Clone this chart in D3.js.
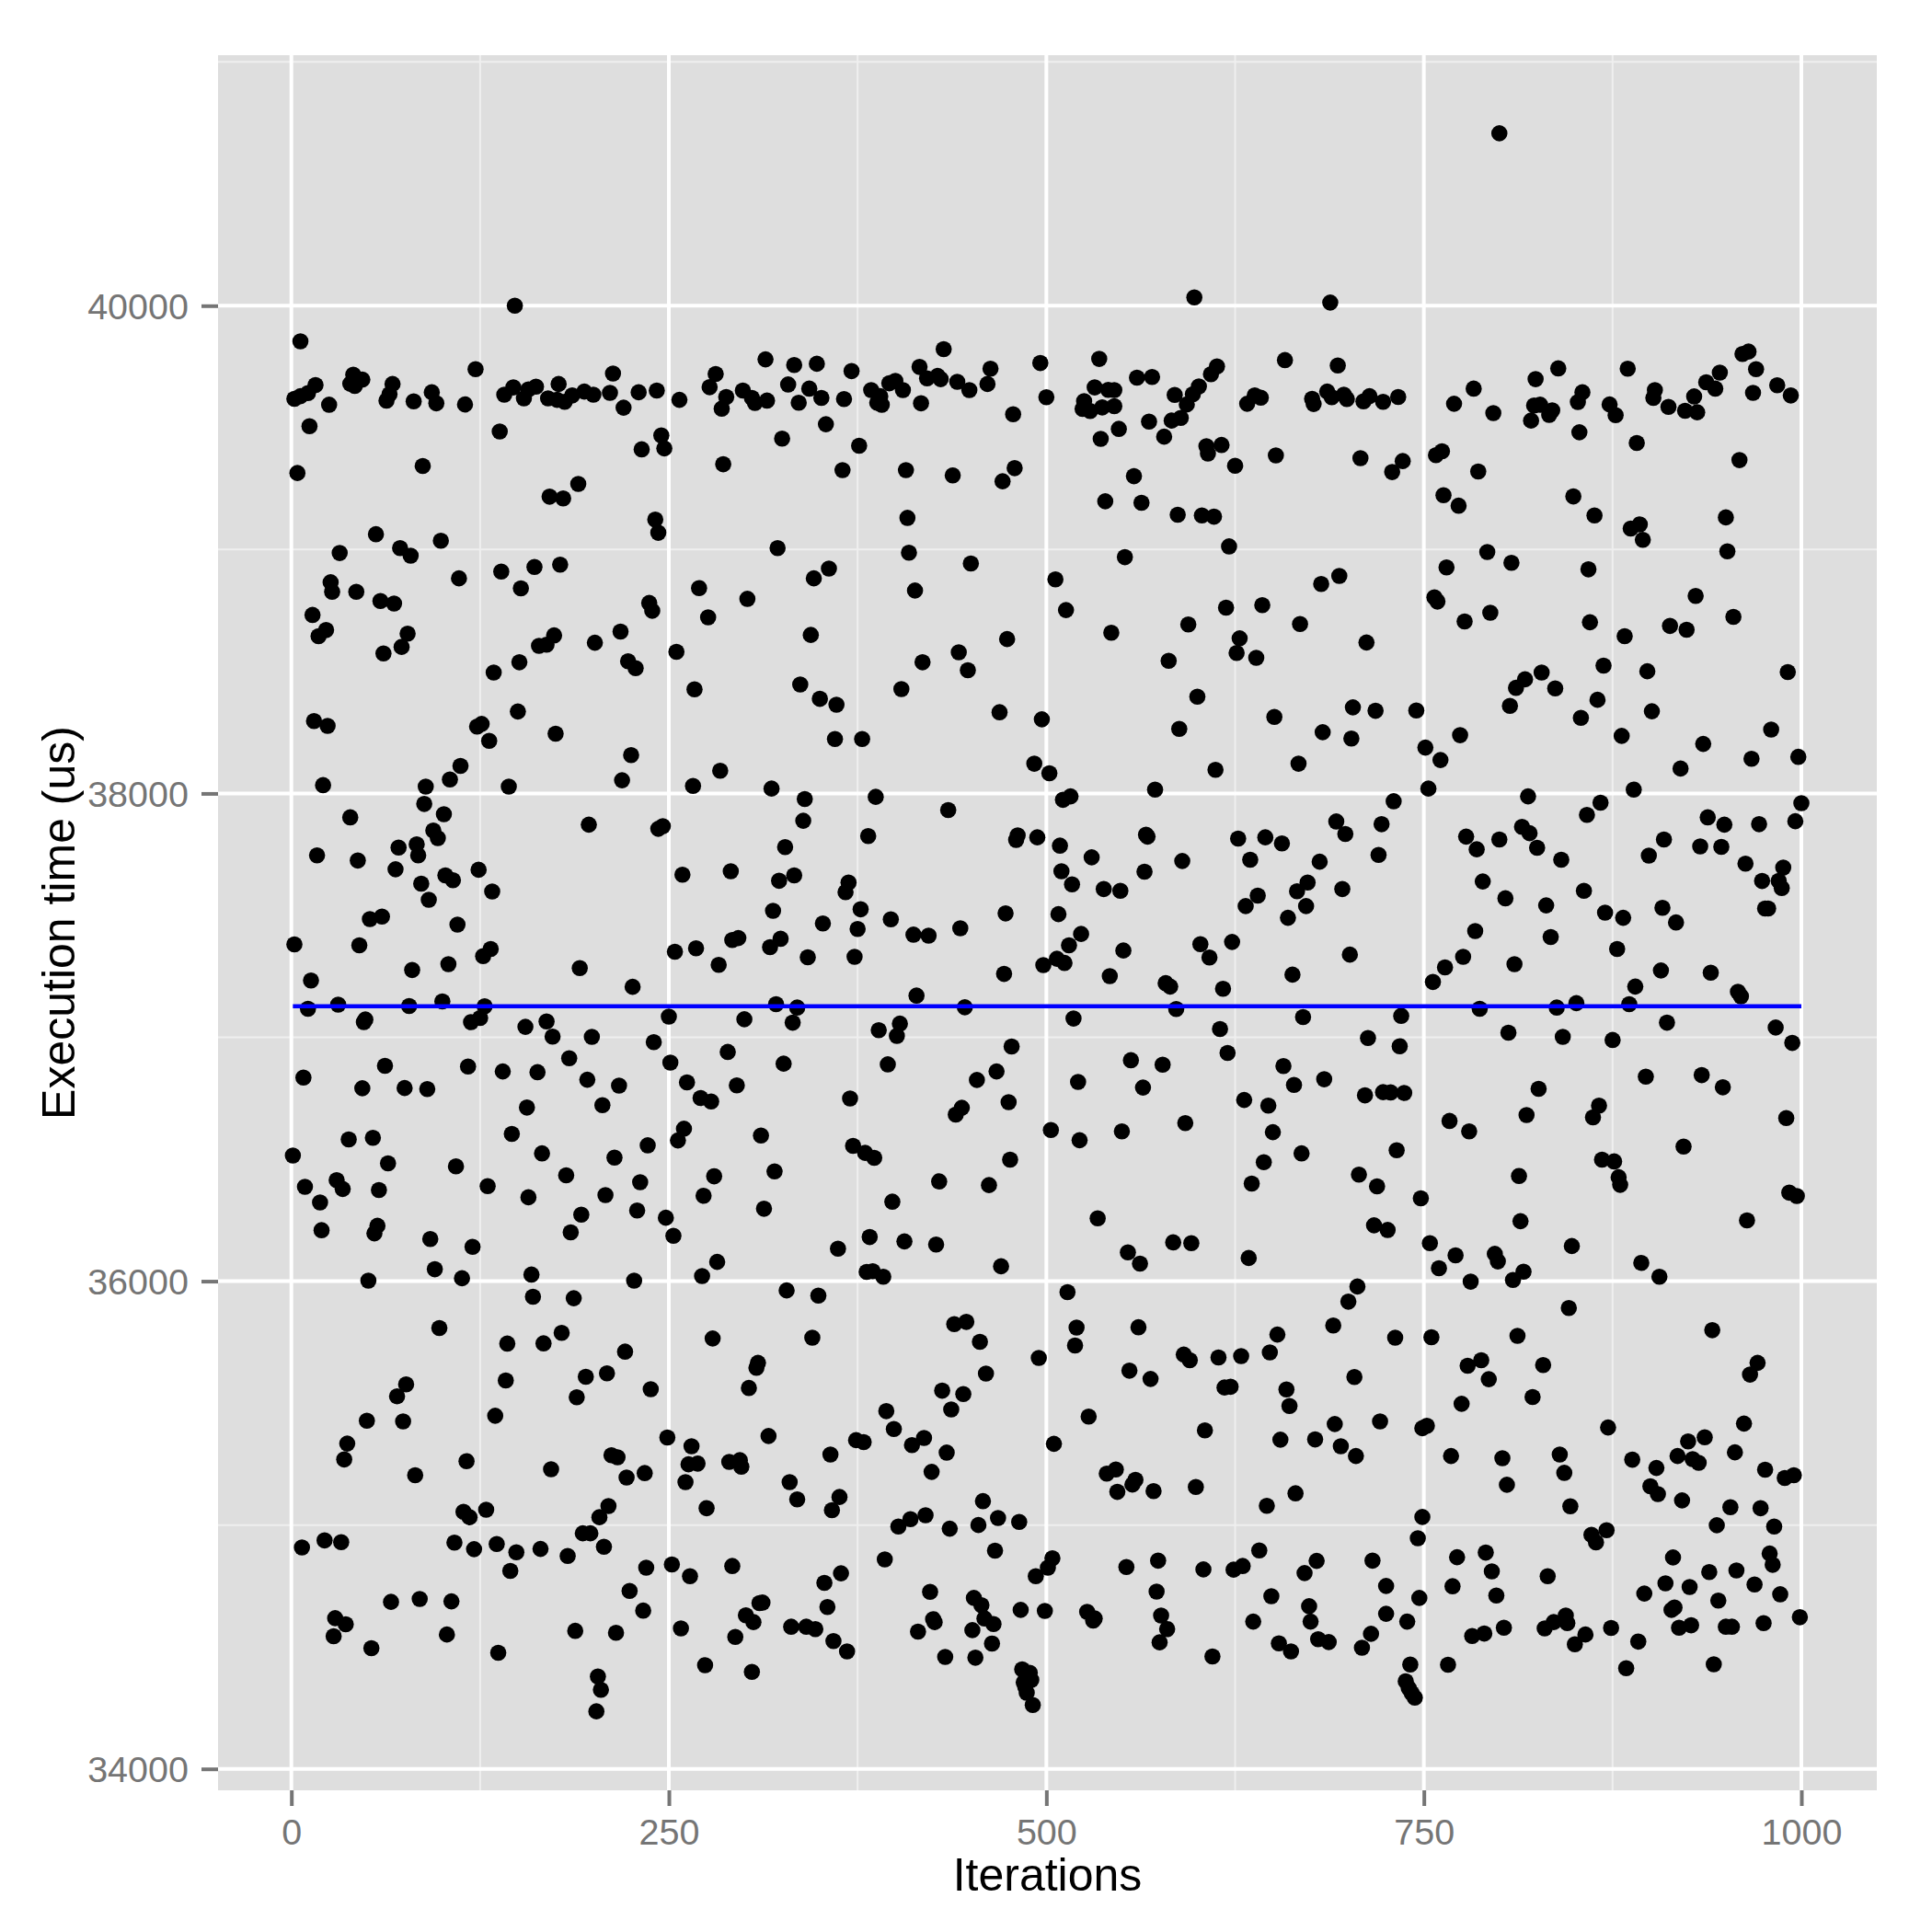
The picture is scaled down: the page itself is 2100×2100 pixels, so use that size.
<!DOCTYPE html>
<html><head><meta charset="utf-8">
<script src="https://cdnjs.cloudflare.com/ajax/libs/d3/7.8.5/d3.min.js"></script>
<style>html,body{margin:0;padding:0;background:#fff}svg{display:block}text{font-family:"Liberation Sans",Arial,sans-serif}</style>
</head><body><div id="chart"></div>
<script>
const xTicks=[0,250,500,750,1000], xMinor=[125,375,625,875];
const yTicks=[34000,36000,38000,40000], yMinor=[35000,37000,39000,41000];
const meanTime=37127, lineSpan=[1,1000];
const outlier=[[800,40707]];
const upperLeft=[[148,40000],[6,39854],[122,39740],[41,39717],[47,39697],[39,39680],[42,39671],[16,39675],[11,39642],[6,39629],[2,39618],[25,39594],[67,39679],[65,39637],[63,39611],[81,39608],[93,39645],[96,39600],[115,39595],[141,39635],[147,39665],[154,39620],[157,39657],[162,39668],[170,39620],[177,39679],[176,39614],[181,39606],[186,39632],[194,39648],[200,39635],[213,39722],[211,39643],[220,39582],[230,39645],[242,39652],[257,39614],[281,39720],[277,39666],[288,39626],[285,39578],[299,39652],[305,39622],[307,39601],[315,39611],[314,39780],[333,39757],[329,39677],[336,39602],[12,39506],[138,39484],[245,39468],[247,39415],[232,39411],[325,39455],[4,39314],[87,39343],[286,39350],[190,39269],[171,39217],[180,39210],[241,39123],[243,39069],[56,39063],[72,39006],[79,38975],[99,39036],[32,38986],[322,39006],[111,38882],[139,38910],[161,38929],[178,38938],[152,38841],[26,38866],[27,38827],[43,38827],[59,38789],[68,38779],[14,38732],[23,38670],[18,38645],[77,38655],[73,38601],[61,38574],[270,38842],[302,38798],[276,38722],[237,38781],[239,38749],[218,38664],[201,38618],[174,38648],[169,38610],[164,38605],[151,38538],[134,38496],[223,38542],[228,38514],[255,38581],[267,38427],[337,38447],[15,38297],[24,38277],[126,38285],[123,38274],[150,38336],[175,38245],[131,38216],[225,38157],[112,38113],[105,38057],[219,38054],[284,38093],[21,38034],[89,38028],[144,38028],[266,38031],[318,38020],[88,37957],[39,37902],[101,37915],[94,37848],[97,37817],[197,37872],[246,37866],[243,37855],[83,37791],[71,37778],[84,37746],[17,37746],[44,37725],[327,37780]];
const upperMiddle=[[348,39762],[343,39660],[351,39622],[366,39617],[371,39732],[354,39514],[376,39426],[365,39326],[384,39654],[390,39629],[388,39602],[391,39594],[396,39682],[400,39692],[405,39654],[416,39749],[421,39702],[428,39712],[430,39699],[432,39822],[417,39600],[441,39688],[449,39654],[463,39742],[461,39679],[478,39555],[496,39765],[500,39625],[535,39782],[532,39665],[541,39655],[545,39654],[525,39609],[524,39577],[529,39568],[537,39583],[545,39588],[560,39705],[570,39708],[548,39495],[536,39454],[568,39525],[578,39463],[583,39529],[589,39540],[585,39634],[593,39595],[597,39637],[601,39669],[609,39719],[613,39751],[598,40034],[688,40013],[658,39777],[693,39755],[633,39598],[638,39632],[642,39623],[676,39618],[677,39597],[686,39648],[689,39625],[697,39635],[699,39617],[710,39608],[714,39629],[723,39606],[606,39424],[607,39394],[616,39429],[625,39344],[652,39386],[708,39375],[407,39326],[438,39304],[479,39334],[471,39280],[408,39130],[539,39198],[563,39192],[558,39301],[587,39143],[603,39140],[611,39135],[621,39013],[409,38987],[552,38969],[450,38943],[356,38922],[346,38882],[413,38832],[506,38878],[513,38752],[619,38762],[643,38772],[594,38693],[682,38859],[694,38892],[668,38695],[344,38650],[474,38633],[543,38659],[628,38636],[712,38619],[626,38576],[639,38556],[581,38544],[442,38579],[418,38538],[448,38505],[350,38388],[361,38364],[404,38428],[600,38397],[360,38223],[378,38223],[469,38333],[497,38304],[588,38265],[651,38314],[703,38353],[718,38339],[683,38251],[702,38225],[492,38122],[502,38083],[612,38097],[667,38122],[340,37977],[387,37986],[339,37888],[435,37932],[511,37974],[516,37988],[572,38016],[382,37825],[481,37828],[480,37809],[494,37820],[509,37786],[530,37738],[566,37831],[567,37823],[627,37815],[645,37820],[656,37795],[590,37723],[635,37728],[681,37720],[692,37885],[698,37834],[722,37874],[720,37748]];
const upperRight=[[733,39626],[770,39598],[783,39660],[796,39560],[824,39699],[839,39743],[823,39591],[827,39594],[835,39571],[833,39552],[821,39529],[855,39645],[852,39605],[853,39481],[873,39595],[877,39551],[885,39742],[891,39437],[903,39654],[902,39622],[912,39585],[923,39569],[931,39563],[929,39628],[937,39686],[943,39660],[946,39726],[961,39802],[965,39812],[970,39740],[968,39643],[984,39674],[993,39632],[959,39367],[736,39363],[729,39318],[762,39403],[758,39387],[786,39320],[763,39223],[773,39180],[849,39218],[863,39140],[893,39103],[887,39086],[895,39040],[950,39132],[951,38993],[792,38990],[808,38946],[765,38927],[859,38919],[757,38804],[759,38787],[794,38741],[777,38705],[930,38810],[955,38724],[860,38702],[913,38687],[924,38671],[883,38645],[869,38524],[898,38501],[991,38498],[828,38496],[817,38468],[811,38433],[837,38431],[807,38359],[865,38384],[854,38310],[901,38337],[745,38340],[774,38239],[881,38236],[751,38188],[761,38137],[935,38203],[980,38262],[920,38102],[967,38142],[998,38150],[753,38020],[889,38016],[819,37988],[730,37968],[867,37962],[858,37912],[1000,37960],[996,37886],[938,37902],[949,37872],[972,37874],[815,37863],[820,37837],[778,37823],[785,37771],[800,37811],[825,37777],[909,37811],[899,37745],[933,37783],[947,37781],[841,37728],[963,37712],[988,37696]];
const centerLeft=[[69,37689],[124,37687],[102,37664],[107,37644],[86,37630],[133,37598],[91,37564],[60,37495],[52,37485],[110,37462],[2,37381],[45,37377],[132,37362],[127,37333],[104,37300],[80,37276],[191,37284],[13,37233],[226,37207],[259,37667],[291,37681],[323,37642],[333,37664],[319,37519],[296,37407],[292,37399],[324,37404],[317,37370],[268,37365],[254,37351],[283,37297],[11,37117],[31,37134],[78,37128],[100,37147],[128,37127],[321,37136],[335,37122],[49,37073],[48,37062],[125,37079],[119,37062],[155,37043],[169,37065],[173,37003],[199,37002],[250,37085],[240,36980],[300,37074],[332,37060],[184,36914],[62,36883],[117,36880],[140,36860],[163,36857],[251,36896],[289,36940],[326,36892],[8,36835],[47,36791],[75,36792],[90,36788],[196,36826],[217,36802],[262,36815],[295,36803],[271,36751],[278,36737],[156,36712],[206,36722],[38,36581],[54,36588],[146,36604],[260,36625],[256,36577],[311,36597],[236,36557],[1,36515],[166,36524],[214,36507],[64,36483],[109,36471],[182,36434],[231,36406],[280,36430],[320,36450],[30,36414],[34,36378],[9,36387],[58,36374],[130,36390],[19,36323],[157,36344],[208,36353],[273,36350],[192,36273],[229,36290],[248,36260],[313,36297],[57,36227],[55,36196],[20,36209],[185,36200],[253,36186],[92,36173],[120,36141],[282,36079],[95,36049],[113,36012],[51,36002],[159,36027],[227,36002],[272,36021],[328,35962],[160,35936],[187,35930],[98,35808],[179,35788],[143,35744],[167,35745],[279,35765],[221,35711],[309,35665],[308,35645],[76,35577],[70,35528],[195,35608],[209,35622],[142,35593],[238,35557],[303,35562],[189,35524],[135,35448],[50,35428],[74,35425],[249,35359],[316,35365],[37,35334],[265,35323]];
const centerMiddle=[[510,37681],[517,37627],[565,37679],[538,37608],[549,37601],[369,37635],[367,37595],[377,37525],[352,37467],[375,37444],[397,37484],[412,37421],[422,37417],[443,37447],[473,37508],[508,37505],[342,37328],[373,37330],[523,37424],[515,37377],[507,37322],[512,37305],[498,37296],[472,37260],[551,37356],[542,37251],[632,37538],[640,37581],[666,37599],[673,37635],[672,37538],[660,37490],[696,37608],[602,37382],[608,37327],[623,37391],[701,37339],[663,37257],[579,37222],[582,37208],[617,37199],[414,37171],[446,37123],[586,37116],[403,37056],[389,37029],[401,37006],[518,37077],[670,37083],[615,37034],[620,36936],[477,36962],[713,36997],[395,36889],[467,36860],[454,36825],[556,36906],[577,36888],[521,36817],[564,36794],[657,36882],[664,36805],[684,36828],[711,36762],[723,36775],[370,36749],[475,36734],[444,36711],[440,36683],[631,36743],[647,36720],[503,36620],[522,36578],[550,36614],[592,36648],[650,36611],[372,36555],[380,36526],[386,36506],[476,36498],[644,36488],[669,36524],[429,36409],[462,36394],[636,36400],[707,36437],[719,36389],[398,36326],[534,36258],[383,36181],[362,36133],[406,36163],[427,36150],[584,36159],[596,36156],[554,36118],[562,36072],[634,36095],[717,36229],[470,36061],[381,36038],[385,36041],[392,36018],[349,35941],[514,35955],[706,35978],[700,35916],[345,35768],[439,35824],[447,35833],[456,35751],[520,35810],[519,35736],[561,35811],[690,35818],[653,35781],[648,35708],[495,35685],[591,35699],[595,35676],[614,35687],[629,35693],[460,35621],[555,35633],[569,35599],[431,35551],[445,35537],[618,35564],[622,35567],[659,35556],[704,35607],[394,35467],[437,35474],[528,35445],[661,35488],[605,35388],[691,35414],[721,35425],[399,35394],[374,35348],[379,35340],[419,35357],[411,35328],[655,35350],[678,35351],[695,35323],[505,35333],[434,35297]];
const centerRight=[[789,37639],[804,37570],[831,37541],[856,37601],[784,37436],[870,37511],[882,37490],[908,37531],[917,37471],[834,37411],[878,37362],[974,37641],[985,37641],[987,37612],[976,37528],[978,37528],[776,37330],[764,37287],[756,37227],[810,37300],[907,37274],[940,37265],[890,37208],[958,37187],[960,37168],[851,37140],[886,37136],[787,37117],[838,37122],[735,37088],[911,37060],[806,37019],[842,37002],[875,36989],[983,37040],[994,36977],[734,36963],[897,36839],[934,36845],[948,36795],[826,36789],[737,36772],[728,36774],[866,36720],[862,36672],[818,36681],[767,36657],[780,36614],[990,36669],[922,36552],[732,36537],[868,36498],[876,36491],[879,36426],[880,36395],[813,36431],[748,36340],[992,36363],[997,36349],[814,36246],[964,36249],[726,36210],[848,36144],[754,36156],[771,36106],[797,36112],[799,36081],[760,36053],[894,36075],[816,36039],[809,36005],[781,35998],[906,36018],[846,35890],[731,35768],[755,35770],[812,35776],[941,35799],[788,35676],[779,35653],[829,35656],[793,35598],[971,35665],[966,35617],[822,35525],[775,35497],[872,35400],[752,35407],[749,35397],[962,35416],[936,35360],[925,35343]];
const lowerLeft=[[35,35269],[116,35262],[212,35286],[216,35278],[263,35249],[269,35252],[290,35259],[297,35266],[298,35239],[172,35229],[82,35204],[234,35213],[222,35195],[261,35176],[330,35176],[275,35069],[335,35105],[114,35054],[118,35032],[129,35063],[210,35078],[204,35032],[193,34966],[198,34966],[7,34908],[22,34937],[33,34930],[108,34928],[121,34901],[136,34922],[149,34888],[165,34902],[183,34873],[207,34911],[145,34812],[235,34825],[252,34838],[264,34790],[292,34832],[224,34730],[66,34685],[85,34697],[106,34687],[310,34680],[312,34682],[233,34649],[29,34618],[36,34593],[28,34544],[53,34495],[103,34551],[188,34566],[215,34558],[258,34576],[301,34630],[306,34602],[294,34541],[137,34476],[331,34583],[274,34425],[305,34398],[203,34379],[205,34324],[202,34236]];
const lowerMiddle=[[357,35289],[424,35218],[363,35115],[358,35061],[705,35283],[540,35211],[546,35228],[559,35185],[557,35166],[547,35136],[571,35139],[599,35156],[665,35130],[646,35079],[458,35098],[420,35040],[410,35024],[402,34994],[436,34985],[455,35000],[468,35029],[482,35013],[393,34859],[466,34895],[504,34864],[501,34825],[493,34790],[553,34828],[574,34854],[604,34818],[624,34817],[630,34832],[641,34896],[671,34803],[679,34853],[716,34854],[725,34750],[364,34802],[353,34763],[423,34726],[573,34727],[649,34708],[355,34664],[452,34701],[457,34671],[674,34667],[725,34636],[483,34652],[499,34648],[527,34644],[532,34617],[531,34608],[576,34629],[675,34604],[580,34573],[637,34604],[425,34614],[426,34602],[459,34617],[465,34594],[341,34583],[347,34573],[415,34563],[451,34569],[359,34524],[368,34482],[464,34514],[575,34519],[654,34515],[680,34532],[687,34520],[715,34554],[662,34482],[709,34497],[433,34459],[453,34456],[610,34461],[484,34408],[489,34394],[490,34365],[485,34355],[486,34337],[487,34312],[491,34262]];
const lowerRight=[[768,35283],[802,35274],[840,35289],[843,35214],[805,35165],[888,35268],[918,35283],[928,35270],[932,35255],[956,35298],[904,35234],[976,35227],[989,35193],[995,35204],[900,35159],[905,35127],[921,35101],[847,35077],[953,35073],[973,35069],[944,34999],[982,34994],[749,35033],[746,34946],[871,34979],[861,34960],[864,34929],[915,34867],[979,34883],[981,34837],[772,34868],[791,34887],[795,34810],[832,34790],[939,34807],[957,34814],[769,34749],[910,34761],[926,34746],[969,34756],[896,34719],[986,34716],[798,34711],[747,34701],[945,34690],[916,34662],[914,34652],[739,34604],[844,34629],[836,34602],[845,34598],[830,34576],[803,34579],[790,34555],[782,34545],[857,34551],[850,34511],[874,34578],[892,34522],[919,34579],[927,34589],[950,34583],[954,34583],[975,34598],[999,34622],[884,34413],[942,34429],[741,34428],[766,34427],[738,34359],[740,34331],[742,34310],[744,34292]];

const points=[].concat(outlier,upperLeft,upperMiddle,upperRight,centerLeft,centerMiddle,centerRight,lowerLeft,lowerMiddle,lowerRight);

const W=2100,H=2100,panel={l:237,r:2040,t:60,b:1946};
const x=d3.scaleLinear().domain([0,1000]).range([316.7,1958]);
const y=d3.scaleLinear().domain([34000,40000]).range([1922.7,332.3]);
const svg=d3.select("#chart").append("svg").attr("width",W).attr("height",H).attr("viewBox",`0 0 ${W} ${H}`);
svg.append("rect").attr("width",W).attr("height",H).attr("fill","#fff");
svg.append("rect").attr("x",panel.l).attr("y",panel.t).attr("width",panel.r-panel.l).attr("height",panel.b-panel.t).attr("fill","#dedede");
const grid=svg.append("g");
grid.selectAll(".vm").data(xMinor).join("line").attr("x1",x).attr("x2",x).attr("y1",panel.t).attr("y2",panel.b).attr("stroke","#efefef").attr("stroke-width",2);
grid.selectAll(".hm").data(yMinor).join("line").attr("y1",y).attr("y2",y).attr("x1",panel.l).attr("x2",panel.r).attr("stroke","#efefef").attr("stroke-width",2);
grid.selectAll(".vM").data(xTicks).join("line").attr("x1",x).attr("x2",x).attr("y1",panel.t).attr("y2",panel.b).attr("stroke","#fff").attr("stroke-width",4);
grid.selectAll(".hM").data(yTicks).join("line").attr("y1",y).attr("y2",y).attr("x1",panel.l).attr("x2",panel.r).attr("stroke","#fff").attr("stroke-width",4);

svg.append("g").selectAll("circle").data(points).join("circle")
  .attr("cx",d=>x(d[0])).attr("cy",d=>y(d[1])).attr("r",8.8).attr("fill","#000");
svg.append("line").attr("x1",x(lineSpan[0])).attr("x2",x(lineSpan[1])).attr("y1",y(meanTime)).attr("y2",y(meanTime)).attr("stroke","#0000ff").attr("stroke-width",4.5);

const ax=svg.append("g").attr("transform",`translate(0,${panel.b})`).call(d3.axisBottom(x).tickValues(xTicks).tickSize(17).tickPadding(14).tickFormat(d3.format("d")));
const ay=svg.append("g").attr("transform",`translate(${panel.l},0)`).call(d3.axisLeft(y).tickValues(yTicks).tickSize(18).tickPadding(14).tickFormat(d3.format("d")));
[ax,ay].forEach(g=>{g.select(".domain").remove();
  g.selectAll("line").attr("stroke","#757575").attr("stroke-width",4);
  g.selectAll("text").attr("fill","#757575").style("font-size","39.5px").style("font-family",'"Liberation Sans",Arial,sans-serif');});
ay.selectAll("text").attr("dy","14px");
svg.append("text").attr("x",(panel.l+panel.r)/2).attr("y",2055).attr("text-anchor","middle").attr("font-size",50).attr("fill","#000").text("Iterations");
svg.append("text").attr("transform",`translate(81,${(panel.t+panel.b)/2}) rotate(-90)`).attr("text-anchor","middle").attr("font-size",50).attr("fill","#000").text("Execution time (us)");
</script></body></html>
